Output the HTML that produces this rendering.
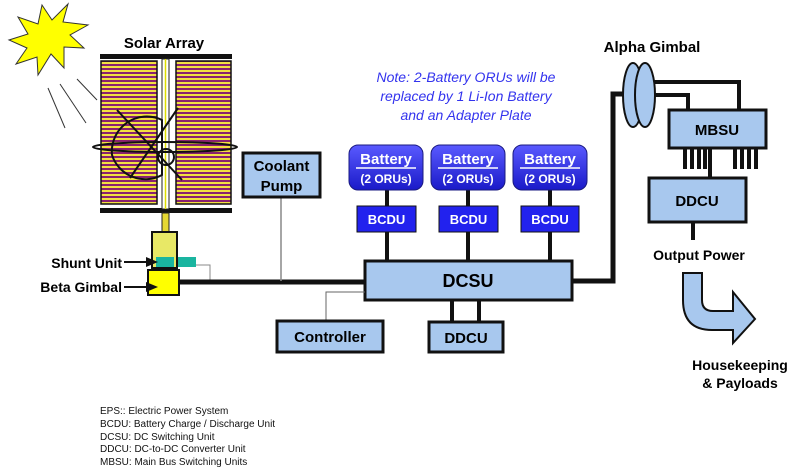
<!DOCTYPE html>
<html><head><meta charset="utf-8"><style>
html,body{margin:0;padding:0;background:#fff}
svg{display:block;font-family:"Liberation Sans",Arial,sans-serif}
</style></head><body>
<svg width="800" height="475" viewBox="0 0 800 475" xmlns="http://www.w3.org/2000/svg">
<defs>
<pattern id="st" width="4" height="4" patternUnits="userSpaceOnUse">
<rect width="4" height="4" fill="#f2e040"/><rect width="4" height="2" fill="#8a2070"/>
</pattern>
<linearGradient id="bat" x1="0" y1="0" x2="0" y2="1"><stop offset="0" stop-color="#5a5aff"/><stop offset="1" stop-color="#1a1ac8"/></linearGradient>
</defs>
<!-- sun -->
<polygon points="68,4 63,22 88,25 70,35 84,48 64,47 64,68 51,54 38,75 37,57 16,64 27,48 9,40 28,34 18,17 38,24 42,5 52,20" fill="#ffff00" stroke="#333" stroke-width="1"/>
<g stroke="#333" stroke-width="1"><line x1="48" y1="88" x2="65" y2="128"/><line x1="60" y1="84" x2="86" y2="123"/><line x1="77" y1="79" x2="97" y2="100"/></g>
<text x="164" y="48" font-size="15" font-weight="bold" text-anchor="middle">Solar Array</text>
<!-- solar array -->
<rect x="100" y="54" width="132" height="5" fill="#111"/>
<rect x="100" y="208" width="132" height="5" fill="#111"/>
<rect x="101" y="61" width="56" height="143" fill="url(#st)" stroke="#111" stroke-width="1.5"/>
<rect x="176" y="61" width="55" height="143" fill="url(#st)" stroke="#111" stroke-width="1.5"/>
<rect x="162" y="59" width="7" height="150" fill="#fff" stroke="#222"/>
<line x1="165.5" y1="59" x2="165.5" y2="209" stroke="#dd0" stroke-width="1.5"/>
<rect x="162" y="213" width="7" height="20" fill="#e5d833" stroke="#222"/>
<!-- satellite sketch -->
<g fill="none" stroke="#111" stroke-width="2">
<path d="M112,155 a35,35 0 0,0 50,20 l0,-55 a35,35 0 0,0 -50,35z"/>
<ellipse cx="165" cy="147" rx="72" ry="5"/>
<line x1="117" y1="110" x2="182" y2="180"/><line x1="178" y1="108" x2="130" y2="178"/>
<circle cx="166" cy="157" r="8"/>
</g>
<!-- shunt & beta -->
<rect x="152" y="232" width="25" height="36" fill="#e8e866" stroke="#111" stroke-width="2"/>
<rect x="156" y="257" width="18" height="10" fill="#1ab5a0"/>
<rect x="178" y="257" width="18" height="10" fill="#1ab5a0"/>
<polyline points="196,265 210,265 210,280" fill="none" stroke="#888" stroke-width="1"/>
<rect x="148" y="270" width="31" height="25" fill="#ffff00" stroke="#111" stroke-width="2"/>
<text x="122" y="268" font-size="14" font-weight="bold" text-anchor="end">Shunt Unit</text>
<text x="122" y="292" font-size="14" font-weight="bold" text-anchor="end">Beta  Gimbal</text>
<g stroke="#111" stroke-width="2"><line x1="124" y1="262" x2="150" y2="262"/><line x1="124" y1="287" x2="150" y2="287"/></g>
<polygon points="158,262 146,257 146,267" fill="#111"/><polygon points="158,287 146,282 146,292" fill="#111"/>
<!-- main bus -->
<line x1="179" y1="282" x2="366" y2="282" stroke="#111" stroke-width="5"/>
<polyline points="572,281 613,281 613,94 625,94" fill="none" stroke="#111" stroke-width="5"/>
<!-- coolant -->
<line x1="281" y1="196" x2="281" y2="281" stroke="#888" stroke-width="1.5"/>
<rect x="243" y="153" width="77" height="44" fill="#a8c8ee" stroke="#111" stroke-width="3"/>
<text x="281.5" y="171" font-size="15" font-weight="bold" text-anchor="middle">Coolant</text>
<text x="281.5" y="191" font-size="15" font-weight="bold" text-anchor="middle">Pump</text>
<!-- note -->
<g font-size="14" font-style="italic" fill="#3333ee" text-anchor="middle">
<text x="466" y="82">Note: 2-Battery ORUs will be</text>
<text x="466" y="101">replaced by 1 Li-Ion Battery</text>
<text x="466" y="120">and an Adapter Plate</text>
</g>
<!-- batteries -->
<g stroke="#111" stroke-width="4">
<line x1="387" y1="188" x2="387" y2="262"/><line x1="468" y1="188" x2="468" y2="262"/><line x1="550" y1="188" x2="550" y2="262"/>
</g>
<g font-weight="bold" fill="#fff" text-anchor="middle">
<rect x="349" y="145" width="74" height="45" rx="9" fill="url(#bat)" stroke="#1a1a80"/>
<text x="386" y="164" font-size="15">Battery</text><line x1="356" y1="168" x2="416" y2="168" stroke="#fff" stroke-width="1.5"/><text x="386" y="183" font-size="12">(2 ORUs)</text>
<rect x="431" y="145" width="74" height="45" rx="9" fill="url(#bat)" stroke="#1a1a80"/>
<text x="468" y="164" font-size="15">Battery</text><line x1="438" y1="168" x2="498" y2="168" stroke="#fff" stroke-width="1.5"/><text x="468" y="183" font-size="12">(2 ORUs)</text>
<rect x="513" y="145" width="74" height="45" rx="9" fill="url(#bat)" stroke="#1a1a80"/>
<text x="550" y="164" font-size="15">Battery</text><line x1="520" y1="168" x2="580" y2="168" stroke="#fff" stroke-width="1.5"/><text x="550" y="183" font-size="12">(2 ORUs)</text>
<rect x="357" y="206" width="59" height="26" fill="#2222ee" stroke="#111"/><text x="386.5" y="224" font-size="13">BCDU</text>
<rect x="439" y="206" width="59" height="26" fill="#2222ee" stroke="#111"/><text x="468.5" y="224" font-size="13">BCDU</text>
<rect x="521" y="206" width="58" height="26" fill="#2222ee" stroke="#111"/><text x="550" y="224" font-size="13">BCDU</text>
</g>
<!-- DCSU -->
<rect x="365" y="261" width="207" height="39" fill="#a8c8ee" stroke="#111" stroke-width="3"/>
<text x="468" y="287" font-size="18" font-weight="bold" text-anchor="middle">DCSU</text>
<polyline points="365,292 326,292 326,322" fill="none" stroke="#666" stroke-width="1"/>
<g stroke="#111" stroke-width="4"><line x1="452" y1="300" x2="452" y2="322"/><line x1="479" y1="300" x2="479" y2="322"/></g>
<rect x="277" y="321" width="106" height="31" fill="#a8c8ee" stroke="#111" stroke-width="3"/>
<text x="330" y="342" font-size="15" font-weight="bold" text-anchor="middle">Controller</text>
<rect x="429" y="322" width="74" height="30" fill="#a8c8ee" stroke="#111" stroke-width="3"/>
<text x="466" y="343" font-size="15" font-weight="bold" text-anchor="middle">DDCU</text>
<!-- alpha gimbal -->
<text x="652" y="52" font-size="15" font-weight="bold" text-anchor="middle">Alpha Gimbal</text>
<g fill="none" stroke="#111" stroke-width="4">
<polyline points="650,82 739,82 739,111"/><polyline points="650,95 688,95 688,111"/>
<line x1="710" y1="148" x2="710" y2="179"/><line x1="693" y1="222" x2="693" y2="240"/>
</g>
<ellipse cx="633" cy="95" rx="10" ry="32" fill="#a8c8ee" stroke="#111" stroke-width="2"/>
<ellipse cx="645" cy="95" rx="10" ry="32" fill="#a8c8ee" stroke="#111" stroke-width="2"/>
<rect x="669" y="110" width="97" height="38" fill="#a8c8ee" stroke="#111" stroke-width="3"/>
<text x="717" y="135" font-size="15" font-weight="bold" text-anchor="middle">MBSU</text>
<g fill="#111"><rect x="683" y="149" width="4" height="20"/><rect x="690" y="149" width="4" height="20"/><rect x="697" y="149" width="4" height="20"/><rect x="703" y="149" width="4" height="20"/>
<rect x="733" y="149" width="4" height="20"/><rect x="740" y="149" width="4" height="20"/><rect x="747" y="149" width="4" height="20"/><rect x="754" y="149" width="4" height="20"/></g>
<rect x="649" y="178" width="97" height="44" fill="#a8c8ee" stroke="#111" stroke-width="3"/>
<text x="697" y="206" font-size="15" font-weight="bold" text-anchor="middle">DDCU</text>
<text x="699" y="260" font-size="14" font-weight="bold" text-anchor="middle">Output Power</text>
<path d="M683,273 L702,273 L702,300 Q702,311 713,311 L733,311 L733,292 L755,319 L733,343 L733,330 L712,330 Q683,330 683,300 Z" fill="#a8c8ee" stroke="#111" stroke-width="2"/>
<text x="740" y="370" font-size="14" font-weight="bold" text-anchor="middle">Housekeeping</text>
<text x="740" y="388" font-size="14" font-weight="bold" text-anchor="middle">&amp; Payloads</text>
<!-- legend -->
<g font-size="10" fill="#111">
<text x="100" y="414">EPS:: Electric Power System</text>
<text x="100" y="427">BCDU:  Battery Charge / Discharge Unit</text>
<text x="100" y="440">DCSU:  DC Switching Unit</text>
<text x="100" y="452">DDCU:  DC-to-DC Converter Unit</text>
<text x="100" y="465">MBSU:  Main Bus Switching Units</text>
</g>
</svg>
</body></html>
